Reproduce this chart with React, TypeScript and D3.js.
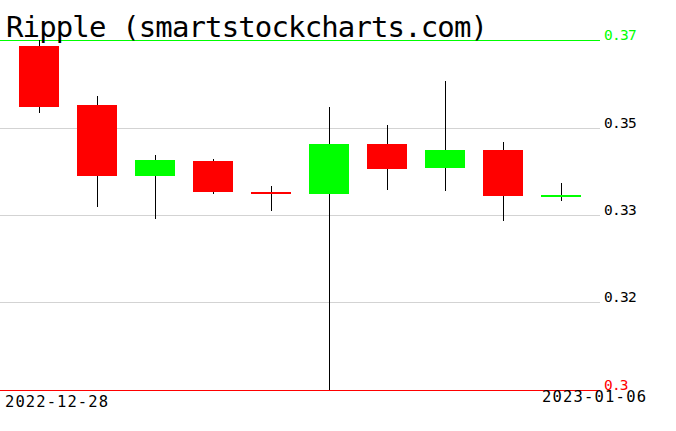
import React from 'react';
import * as d3 from 'd3';

const dates = [
    '2022-12-28', '2022-12-29', '2022-12-30', '2022-12-31', '2023-01-01',
    '2023-01-02', '2023-01-03', '2023-01-04', '2023-01-05', '2023-01-06'
];
const opens = [0.3688, 0.3570, 0.3427, 0.3458, 0.3396, 0.3393, 0.3492, 0.3443, 0.3480, 0.3387];
const highs = [0.3700, 0.3588, 0.3470, 0.3461, 0.3408, 0.3566, 0.3530, 0.3617, 0.3496, 0.3414];
const lows = [0.3555, 0.3367, 0.3343, 0.3391, 0.3359, 0.3000, 0.3400, 0.3397, 0.3339, 0.3377];
const closes = [0.3567, 0.3427, 0.3460, 0.3395, 0.3394, 0.3492, 0.3443, 0.3480, 0.3387, 0.3390];

const tickValues = [0.3, 0.3175, 0.335, 0.3525, 0.37];
const tickLabels = ['0.3', '0.32', '0.33', '0.35', '0.37'];

const WIDTH = 676;
const HEIGHT = 431;
const FONT = '"DejaVu Sans Mono", monospace';
const TITLE_FONT = '"DejaVu Sans ExtraLight", "DejaVu Sans Mono", monospace';

const App: React.FC = () => {
    const svgRef = React.useRef<SVGSVGElement>(null);

    React.useEffect(() => {
        const svg = d3.select(svgRef.current);
        svg.selectAll('*').remove();

        const x = d3.scaleBand<string>()
            .domain(dates)
            .range([10, 590])
            .paddingInner(0.31)
            .paddingOuter(0.155);
        const y = d3.scaleLinear()
            .domain([d3.min(lows)!, d3.max(highs)!])
            .range([390, 40]);

        // grid lines, top green / bottom red
        const last = tickValues.length - 1;
        svg.append('g')
            .selectAll('line')
            .data(tickValues)
            .join('line')
            .attr('x1', 0)
            .attr('x2', 600)
            .attr('y1', d => Math.round(y(d)) + 0.5)
            .attr('y2', d => Math.round(y(d)) + 0.5)
            .attr('stroke', (d, i) => i === 0 ? '#ff0000' : i === last ? '#00ff00' : '#d3d3d3')
            .attr('stroke-width', 1)
            .attr('shape-rendering', 'crispEdges');

        svg.append('g')
            .selectAll('text')
            .data(tickValues)
            .join('text')
            .text((d, i) => tickLabels[i])
            .attr('x', 604)
            .attr('y', d => Math.round(y(d)))
            .attr('font-family', FONT)
            .attr('font-size', 14.5)
            .attr('textLength', (d, i) => tickLabels[i].length * 8.2)
            .attr('fill', (d, i) => i === 0 ? '#ff0000' : i === last ? '#00ff00' : '#000');

        const candles = svg.append('g')
            .selectAll('g')
            .data(dates)
            .join('g');

        candles.append('line')
            .attr('x1', d => Math.round(x(d)! + x.bandwidth() / 2) + 0.5)
            .attr('x2', d => Math.round(x(d)! + x.bandwidth() / 2) + 0.5)
            .attr('y1', (d, i) => Math.round(y(highs[i])))
            .attr('y2', (d, i) => Math.round(y(lows[i])))
            .attr('stroke', '#000')
            .attr('stroke-width', 1)
            .attr('shape-rendering', 'crispEdges');

        candles.append('rect')
            .attr('x', d => Math.round(x(d)!))
            .attr('width', Math.round(x.bandwidth()))
            .attr('y', (d, i) => Math.round(y(Math.max(opens[i], closes[i]))))
            .attr('height', (d, i) => Math.max(2, Math.round(Math.abs(y(opens[i]) - y(closes[i])))))
            .attr('fill', (d, i) => closes[i] >= opens[i] ? '#00ff00' : '#ff0000')
            .attr('shape-rendering', 'crispEdges');

        // date labels
        svg.append('text')
            .text(dates[0])
            .attr('x', 5)
            .attr('y', 407)
            .attr('font-family', FONT)
            .attr('font-size', 15.5)
            .attr('textLength', 103)
            .attr('fill', '#000');
        svg.append('text')
            .text(dates[dates.length - 1])
            .attr('x', 542)
            .attr('y', 402)
            .attr('font-family', FONT)
            .attr('font-size', 15.5)
            .attr('textLength', 104)
            .attr('fill', '#000');

        svg.append('text')
            .text('Ripple (smartstockcharts.com)')
            .attr('x', 6)
            .attr('y', 37)
            .attr('font-family', TITLE_FONT)
            .attr('font-weight', 200)
            .attr('font-size', 29)
            .attr('textLength', 482)
            .attr('fill', '#000');
    }, []);

    return (
        <div style={{ position: 'fixed', left: 0, top: 0, background: '#fff' }}>
            <svg ref={svgRef} width={WIDTH} height={HEIGHT} style={{ display: 'block' }} />
        </div>
    );
};

export default App;
